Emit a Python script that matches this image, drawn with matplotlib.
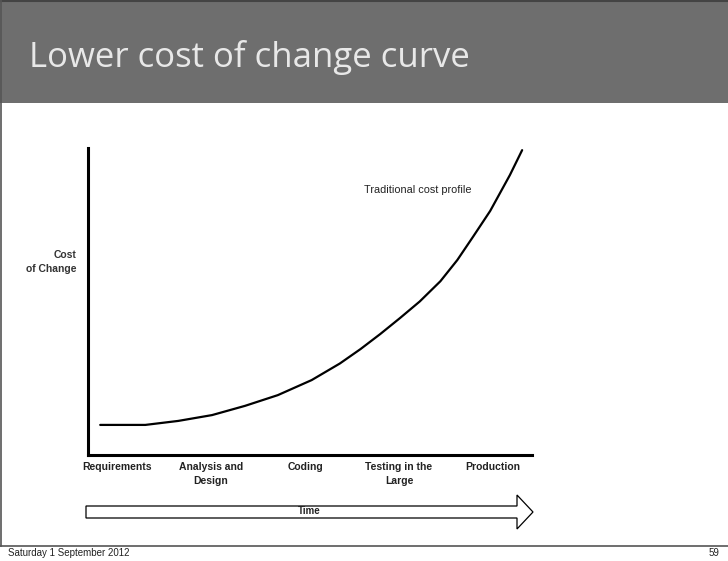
import matplotlib
matplotlib.use("Agg")
import matplotlib.pyplot as plt
from matplotlib.patches import Rectangle, FancyArrow

# phases along the time axis
phases = ["Requirements", "Analysis and\nDesign", "Coding", "Testing in the\nLarge", "Production"]

# traditional cost profile (x in phase units, y relative cost)
phase_pos = [-0.18, 0.30, 0.65, 1.01, 1.36, 1.71, 2.07, 2.37, 2.59, 2.80, 3.01, 3.22,
             3.44, 3.62, 3.79, 3.97, 4.18, 4.31]
cost = [0.098, 0.098, 0.111, 0.130, 0.160, 0.195, 0.244, 0.298, 0.345, 0.394, 0.446, 0.500,
        0.566, 0.635, 0.712, 0.795, 0.912, 0.993]

W, H = 728, 561
fig = plt.figure(figsize=(W / 100, H / 100), dpi=100)
fig.patch.set_facecolor("white")

# background axes in pixel units for the slide decoration
bg = fig.add_axes([0, 0, 1, 1])
bg.set_xlim(0, W)
bg.set_ylim(H, 0)
bg.axis("off")

bg.add_patch(Rectangle((0, 0), W, 103, fc="#6e6e6e", ec="none"))
bg.plot([0, W], [0.8, 0.8], color="#444444", lw=1.5)
bg.plot([1, 1], [0, 546], color="#555555", lw=1.2)
bg.plot([0, W], [545.5, 545.5], color="#555555", lw=1.2)
bg.text(29, 57, "Lower cost of change curve", fontsize=25, color="#e8e8e8",
        family="Open Sans", va="center", ha="left")

bg.add_patch(FancyArrow(86, 512, 447, 0, width=12, head_width=34, head_length=16,
                        length_includes_head=True, fc="white", ec="black", lw=0.9))
bg.text(309, 511, "Time", fontsize=7, fontweight="bold", family="Liberation Sans",
        ha="center", va="center", color="#222222")

bg.text(8, 553, "Saturday 1 September 2012", fontsize=7, family="Liberation Sans",
        ha="left", va="center", color="#222222")
bg.text(719, 553, "59", fontsize=7, family="Liberation Sans",
        ha="right", va="center", color="#222222")

bg.text(76, 262, "Cost\nof Change", fontsize=7.5, fontweight="bold", family="Liberation Sans",
        ha="right", va="center", color="#333333", linespacing=1.6)

# chart axes
ax = fig.add_axes([88 / W, (H - 455) / H, 444 / W, 307 / H])
ax.set_facecolor("none")
ax.set_xlim(-0.31, 4.415)
ax.set_ylim(0, 1)
ax.plot(phase_pos, cost, color="black", lw=1.6, solid_capstyle="round", solid_joinstyle="round")

for s in ["top", "right"]:
    ax.spines[s].set_visible(False)
ax.spines["left"].set_linewidth(2.2)
ax.spines["bottom"].set_linewidth(2.2)
ax.set_yticks([])
ax.set_xticks(range(len(phases)))
ax.set_xticklabels(phases, fontsize=7.5, fontweight="bold", family="Liberation Sans",
                   color="#222222", linespacing=1.5)
ax.tick_params(axis="x", length=0, pad=5)

ax.text(3.20, 0.863, "Traditional cost profile", fontsize=7.8, family="Liberation Sans",
        color="#222222", va="center", ha="center")

fig.savefig("out.png", dpi=100)
